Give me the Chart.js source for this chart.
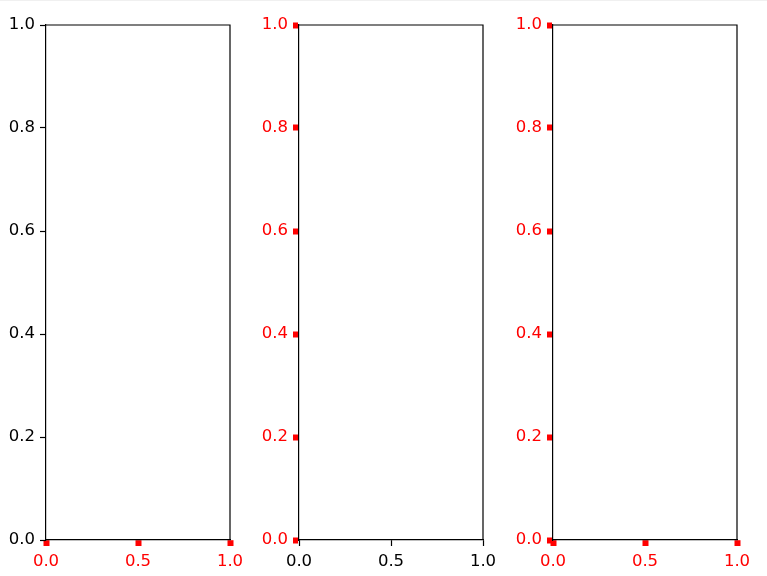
<!DOCTYPE html>
<html>
<head>
<meta charset="utf-8">
<script src="https://cdn.jsdelivr.net/npm/chart.js@4"></script>
<style>
  html, body { margin: 0; padding: 0; background: #fff; }
  body { width: 767px; height: 576px; position: relative; overflow: hidden; }
  #topline { position: absolute; left: 0; top: 0; width: 767px; height: 1px; background: #f0f0f0; }
  canvas { position: absolute; top: 0; }
</style>
</head>
<body>
<div id="topline"></div>
<canvas id="ax1" width="249" height="576" style="left:1px"></canvas>
<canvas id="ax2" width="249" height="576" style="left:254px"></canvas>
<canvas id="ax3" width="249" height="576" style="left:508px"></canvas>
<script>
// tick values shared by the three panels
const xTicks = [0.0, 0.5, 1.0];
const yTicks = [0.0, 0.2, 0.4, 0.6, 0.8, 1.0];

// which axis got coloured in each panel
const panelIds = ['ax1', 'ax2', 'ax3'];
const xTickColors = ['#ff0000', '#000000', '#ff0000'];
const yTickColors = ['#000000', '#ff0000', '#ff0000'];

const font = { family: 'DejaVu Sans', size: 16.5 };

// top and right spines
const frame = {
    id: 'frame',
    afterDraw(chart) {
        const a = chart.chartArea;
        const ctx = chart.ctx;
        ctx.save();
        ctx.strokeStyle = '#000';
        ctx.lineWidth = 1.2;
        ctx.beginPath();
        ctx.moveTo(a.left, a.top);
        ctx.lineTo(a.right, a.top);
        ctx.lineTo(a.right, a.bottom);
        ctx.stroke();
        ctx.restore();
    }
};

function makeAxis(id, xColor, yColor) {
    const xRed = xColor !== '#000000';
    const yRed = yColor !== '#000000';
    return new Chart(document.getElementById(id).getContext('2d'), {
        type: 'scatter',
        data: { datasets: [{ data: [] }] },
        options: {
            responsive: false,
            animation: false,
            layout: { autoPadding: false, padding: { top: 25, left: 0, right: 20, bottom: 0 } },
            plugins: { legend: { display: false }, tooltip: { enabled: false } },
            scales: {
                x: {
                    type: 'linear', min: 0, max: 1,
                    afterBuildTicks: s => { s.ticks = xTicks.map(v => ({ value: v })); },
                    afterFit: s => { s.height = 36; },
                    grid: {
                        drawOnChartArea: false, drawTicks: true,
                        tickLength: 6, tickWidth: xRed ? 6 : 1.2, tickColor: xColor
                    },
                    border: { display: true, color: '#000', width: 1.2 },
                    ticks: {
                        color: xColor, font: font, padding: 6, maxRotation: 0,
                        callback: v => Number(v).toFixed(1)
                    }
                },
                y: {
                    type: 'linear', min: 0, max: 1,
                    afterBuildTicks: s => { s.ticks = yTicks.map(v => ({ value: v })); },
                    afterFit: s => { s.width = 45; },
                    grid: {
                        drawOnChartArea: false, drawTicks: true,
                        tickLength: 6, tickWidth: yRed ? 6 : 1.2, tickColor: yColor
                    },
                    border: { display: true, color: '#000', width: 1.2 },
                    ticks: {
                        color: yColor, font: font, padding: 5,
                        callback: v => Number(v).toFixed(1)
                    }
                }
            }
        },
        plugins: [frame]
    });
}

panelIds.forEach((id, i) => makeAxis(id, xTickColors[i], yTickColors[i]));
</script>
</body>
</html>
